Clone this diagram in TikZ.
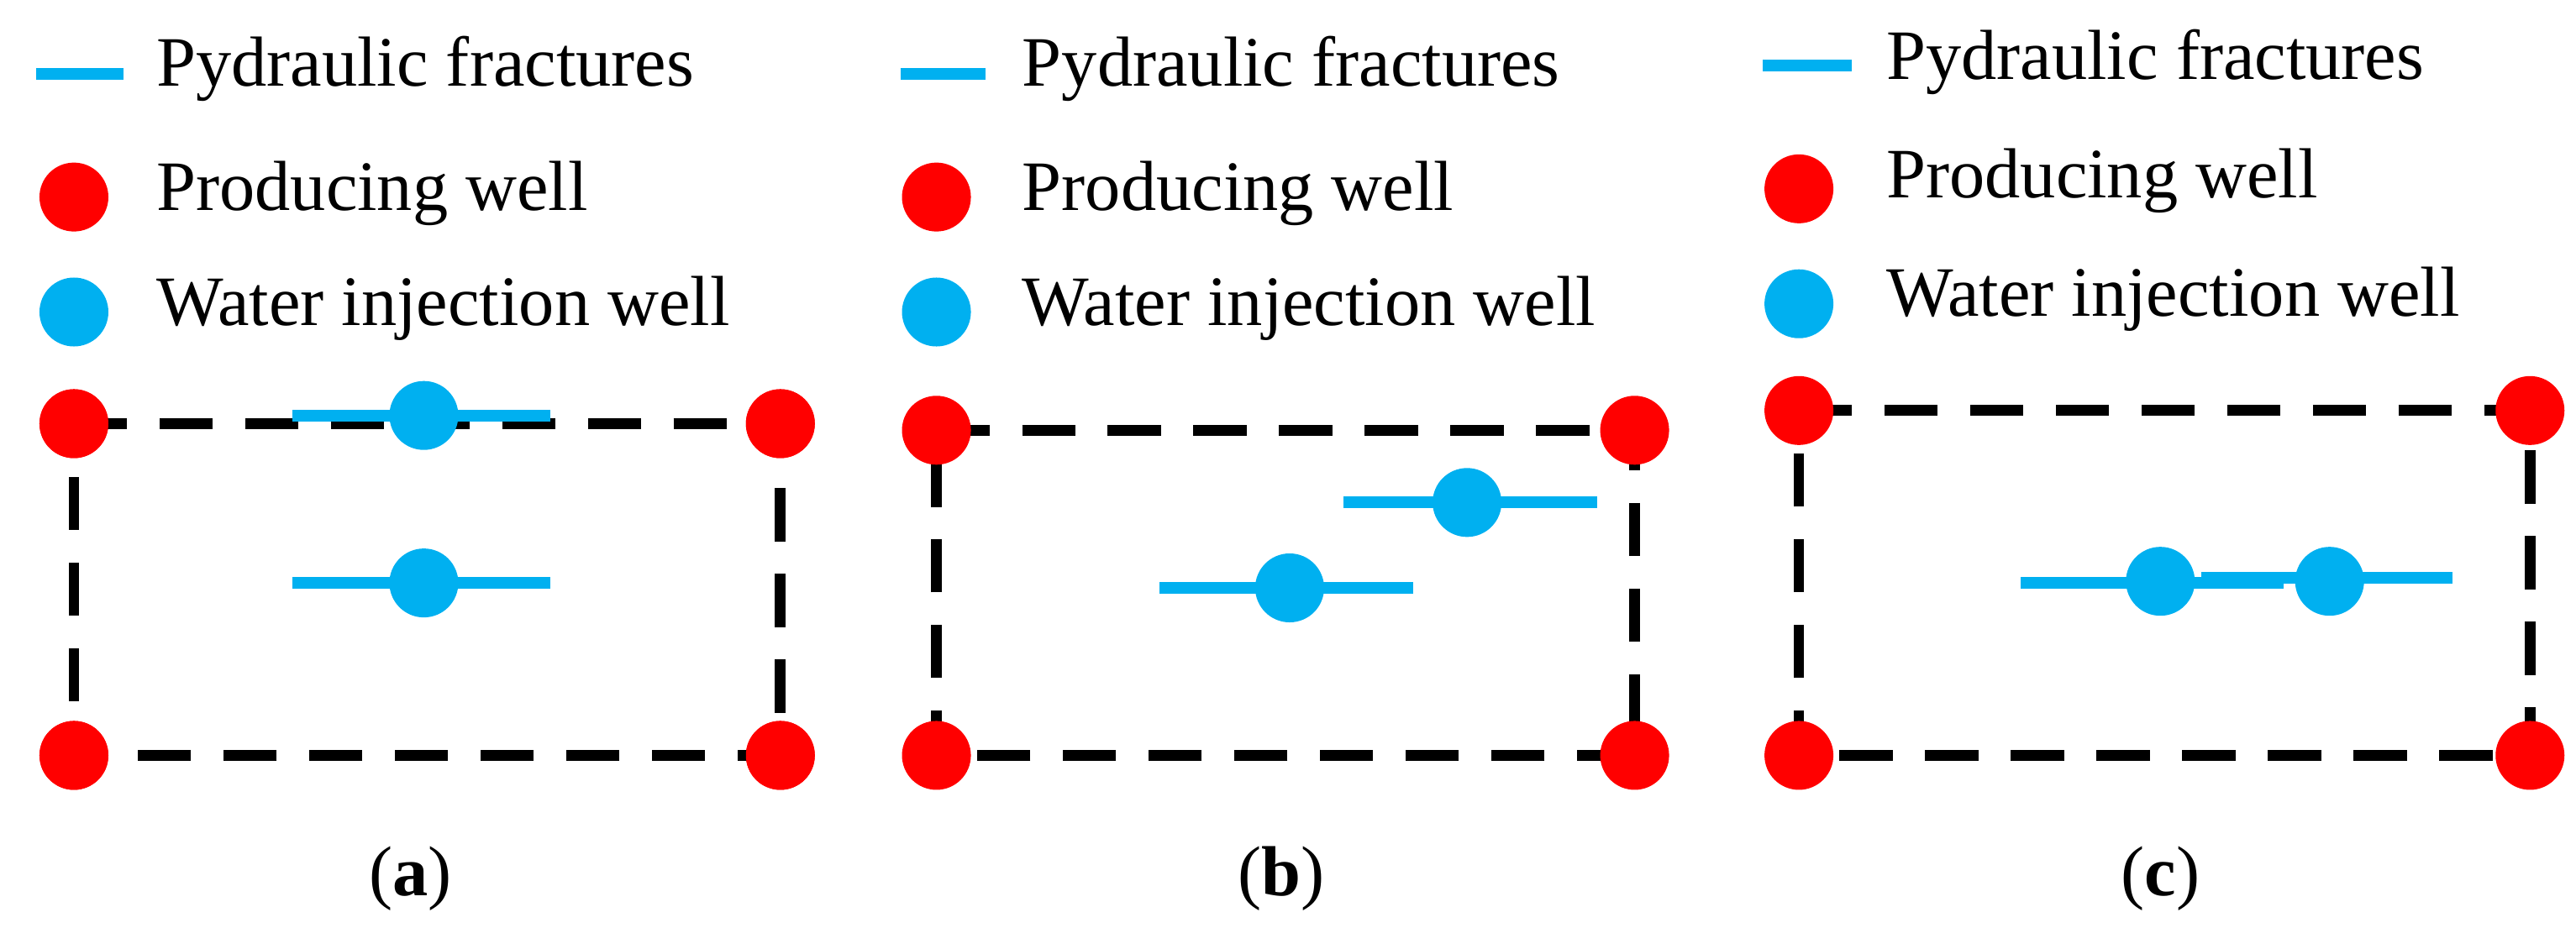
\documentclass[tikz,border=0pt]{standalone}
\usepackage{fontspec}
\setmainfont{Liberation Serif}
\definecolor{frac}{RGB}{0,176,240}
\begin{document}
\begin{tikzpicture}[x=0.01955cm,y=-0.01955cm,
 red/.style={circle,fill=red,minimum size=42\pgflinewidth,inner sep=0pt},
 rdot/.style={circle,fill=red,inner sep=0pt,minimum size=0.82cm},
 bdot/.style={circle,fill=frac,inner sep=0pt,minimum size=0.82cm},
 fr/.style={frac,line width=4pt},
 box/.style={black,line width=3.6pt,dash pattern=on 18pt off 11pt},
 txt/.style={anchor=west,font=\fontsize{24}{26}\selectfont,inner sep=0pt},
 lab/.style={font=\fontsize{24}{26}\selectfont}]
\useasboundingbox (0,0) rectangle (1568,565);
% panel a
\coordinate (la1) at (22,45); \coordinate (la2) at (75,45);
\draw[fr] (la1) -- (la2);
\node[txt] (ta1) at (95,42) {Pydraulic fractures};
\node[rdot] (lra) at (45,120) {}; \node[txt] (ta2) at (95,118) {Producing well};
\node[bdot] (lba) at (45,190) {}; \node[txt] (ta3) at (95,188) {Water injection well};
\node[rdot] (a1) at (45,258) {}; \node[rdot] (a2) at (475,258) {};
\node[rdot] (a3) at (475,460) {}; \node[rdot] (a4) at (45,460) {};
\draw[box] (a1.center) -- (a2.center) -- (a3.center) -- (a4.center) -- cycle;
\node[rdot] at (45,258) {}; \node[rdot] at (475,258) {};\node[rdot] at (475,460) {}; \node[rdot] at (45,460) {};
\coordinate (fa1) at (178,253); \coordinate (fa2) at (335,253);
\draw[fr] (fa1) -- (fa2); \node[bdot] (wa1) at (258,253) {};
\coordinate (fa3) at (178,355); \coordinate (fa4) at (335,355);
\draw[fr] (fa3) -- (fa4); \node[bdot] (wa2) at (258,355) {};
\node[lab] (capa) at (250,535) {(\textbf{a})};
% panel b
\coordinate (lb1) at (548,45); \coordinate (lb2) at (600,45);
\draw[fr] (lb1) -- (lb2);
\node[txt] (tb1) at (622,42) {Pydraulic fractures};
\node[rdot] (lrb) at (570,120) {}; \node[txt] (tb2) at (622,118) {Producing well};
\node[bdot] (lbb) at (570,190) {}; \node[txt] (tb3) at (622,188) {Water injection well};
\coordinate (b1) at (570,262); \coordinate (b2) at (995,262);
\coordinate (b3) at (995,460); \coordinate (b4) at (570,460);
\draw[box] (b1) -- (b2) -- (b3) -- (b4) -- cycle;
\node[rdot] (rb1) at (b1) {}; \node[rdot] (rb2) at (b2) {};\node[rdot] (rb3) at (b3) {}; \node[rdot] (rb4) at (b4) {};
\coordinate (fb1) at (818,306); \coordinate (fb2) at (972,306);
\draw[fr] (fb1) -- (fb2); \node[bdot] (wb1) at (893,306) {};
\coordinate (fb3) at (706,358); \coordinate (fb4) at (860,358);
\draw[fr] (fb3) -- (fb4); \node[bdot] (wb2) at (785,358) {};
\node[lab] (capb) at (780,535) {(\textbf{b})};
% panel c
\coordinate (lc1) at (1073,40); \coordinate (lc2) at (1127,40);
\draw[fr] (lc1) -- (lc2);
\node[txt] (tc1) at (1148,38) {Pydraulic fractures};
\node[rdot] (lrc) at (1095,115) {}; \node[txt] (tc2) at (1148,110) {Producing well};
\node[bdot] (lbc) at (1095,185) {}; \node[txt] (tc3) at (1148,182) {Water injection well};
\coordinate (c1) at (1095,250); \coordinate (c2) at (1540,250);
\coordinate (c3) at (1540,460); \coordinate (c4) at (1095,460);
\draw[box] (c1) -- (c2) -- (c3) -- (c4) -- cycle;
\node[rdot] (rc1) at (c1) {}; \node[rdot] (rc2) at (c2) {};\node[rdot] (rc3) at (c3) {}; \node[rdot] (rc4) at (c4) {};
\coordinate (fc1) at (1230,355); \coordinate (fc2) at (1390,355);
\draw[fr] (fc1) -- (fc2);
\coordinate (fc3) at (1340,352); \coordinate (fc4) at (1493,352);
\draw[fr] (fc3) -- (fc4);
\node[bdot] (wc1) at (1315,354) {}; \node[bdot] (wc2) at (1418,354) {};
\node[lab] (capc) at (1315,535) {(\textbf{c})};
\end{tikzpicture}
\end{document}
